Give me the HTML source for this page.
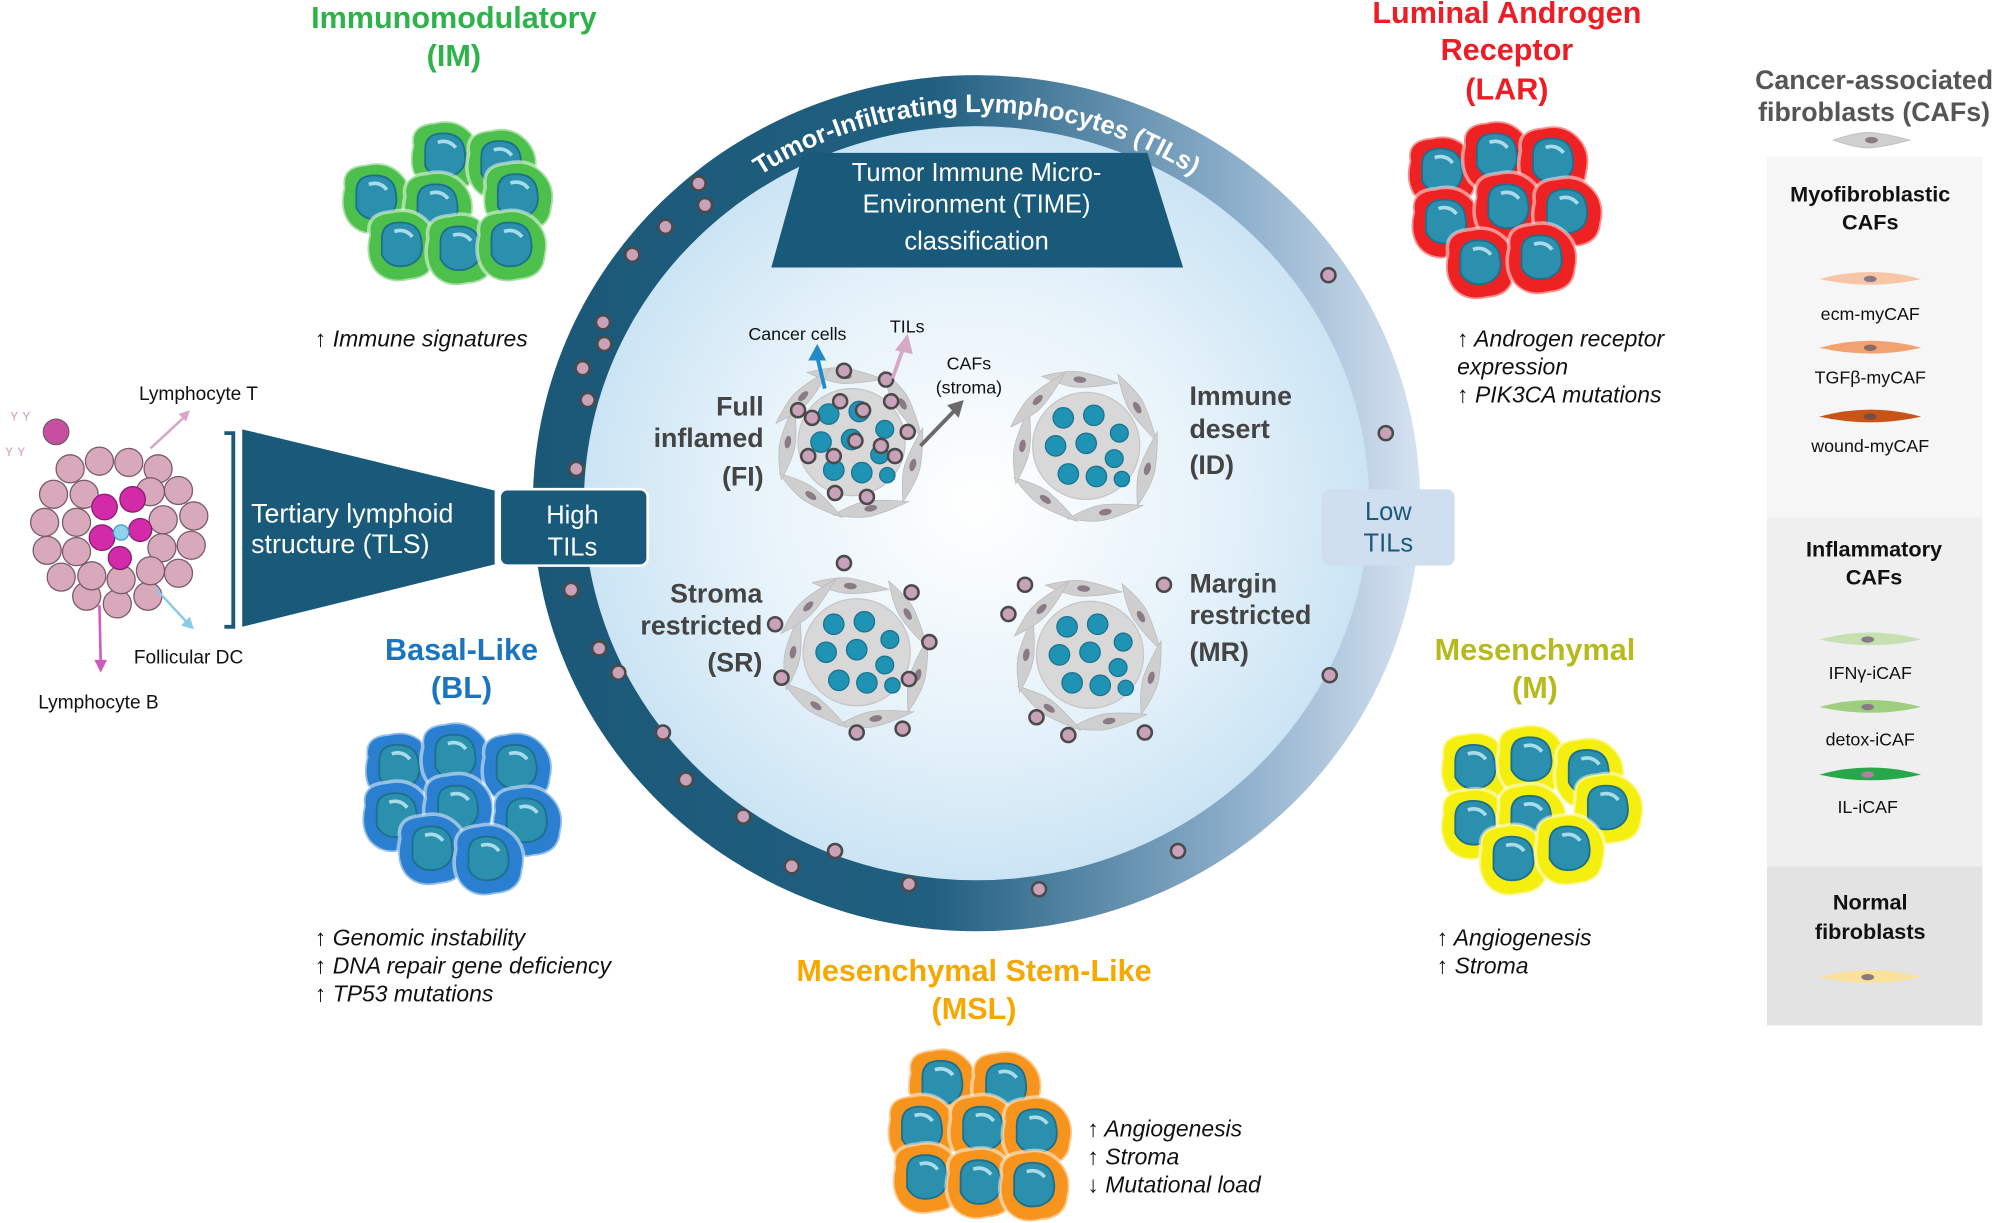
<!DOCTYPE html>
<html><head><meta charset="utf-8"><style>
html,body{margin:0;padding:0;background:#fff}
svg{display:block}
text{font-family:"Liberation Sans",Arial,sans-serif}
.b{font-weight:bold}
.it{font-style:italic;font-size:18px;fill:#111}
.sm{font-size:15px;fill:#111}
.dk{font-size:21px;font-weight:bold;fill:#444}
</style></head><body>
<svg width="1999" height="1223" viewBox="0 0 1568 960" preserveAspectRatio="none" xmlns="http://www.w3.org/2000/svg">
<defs>
<linearGradient id="ring" x1="0" x2="1" y1="0" y2="0">
<stop offset="0" stop-color="#1b5878"/><stop offset="0.45" stop-color="#215f80"/><stop offset="0.8" stop-color="#8fb0cc"/><stop offset="1" stop-color="#d6e2f1"/></linearGradient>
<radialGradient id="inner" cx="0.5" cy="0.5" r="0.5"><stop offset="0" stop-color="#ffffff"/><stop offset="0.6" stop-color="#e6f2fa"/><stop offset="1" stop-color="#cbe4f4"/></radialGradient>
<symbol id="tc" viewBox="-22 -22 44 44" overflow="visible">
<path d="M-18,-6 Q-20,-18 -6,-19 Q6,-22 14,-14 Q22,-6 19,6 Q18,18 4,19 Q-8,22 -15,14 Q-21,6 -18,-6Z" stroke="#fff" stroke-opacity="0.5" stroke-width="2"/>
<path d="M-11,-4 Q-11,-13 -1,-13 Q10,-13 11,-3 Q13,8 3,11 Q-7,13 -11,5Z" fill="#2b8fae" stroke="#1d6f8c" stroke-width="1"/>
<path d="M-4,-8 Q2,-10 6,-5" stroke="#a9dcea" stroke-width="2" fill="none"/>
</symbol>
<symbol id="sp" viewBox="-30 -6 60 12" overflow="visible">
<path d="M-30,0 Q-10,-7 0,-6 Q12,-5 30,0 Q12,5 0,6 Q-10,7 -30,0Z" fill="#cfcfcf" stroke="#bbb" stroke-width="0.6"/>
<ellipse cx="0" cy="0" rx="5" ry="2.5" fill="#8a7a84"/>
</symbol>
<symbol id="tis" viewBox="-60 -60 120 120" overflow="visible">
<g>
<use href="#sp" x="-30" y="-6" width="60" height="12" transform="translate(-5,-52) rotate(5)"/>
<use href="#sp" x="-30" y="-6" width="60" height="12" transform="translate(40,-30) rotate(60)"/>
<use href="#sp" x="-30" y="-6" width="60" height="12" transform="translate(48,18) rotate(-75)"/>
<use href="#sp" x="-30" y="-6" width="60" height="12" transform="translate(15,52) rotate(-10)"/>
<use href="#sp" x="-30" y="-6" width="60" height="12" transform="translate(-32,42) rotate(35)"/>
<use href="#sp" x="-30" y="-6" width="60" height="12" transform="translate(-50,0) rotate(-80)"/>
<use href="#sp" x="-30" y="-6" width="60" height="12" transform="translate(-38,-36) rotate(-45)"/>
</g>
<circle r="42" fill="#d8d8d8" stroke="#c6c6c6"/>
<g fill="#1f93b3" stroke="#1a7290">
<circle cx="-18" cy="-22" r="8"/><circle cx="6" cy="-24" r="8"/><circle cx="26" cy="-10" r="7"/>
<circle cx="-24" cy="0" r="8"/><circle cx="0" cy="-2" r="8"/><circle cx="22" cy="10" r="7"/>
<circle cx="-14" cy="22" r="8"/><circle cx="8" cy="24" r="8"/><circle cx="28" cy="26" r="6"/>
</g>
</symbol>
<symbol id="pd" viewBox="-7 -7 14 14" overflow="visible"><circle r="5.5" fill="#c9a2ba" stroke="#4a4a4a" stroke-width="2"/></symbol>
<path id="arc" d="M560,165 A310 305 0 0 1 972,165"/>
</defs>

<!-- ring -->
<ellipse cx="766" cy="395" rx="348" ry="336" fill="url(#ring)"/>
<ellipse cx="766" cy="395" rx="308" ry="296" fill="url(#inner)"/>
<text font-size="20" class="b" fill="#fff"><textPath href="#arc" startOffset="50%" text-anchor="middle">Tumor-Infiltrating Lymphocytes (TILs)</textPath></text>

<!-- ring dots -->
<g>
<use href="#pd" x="541" y="137" width="14" height="14"/><use href="#pd" x="546" y="154" width="14" height="14"/>
<use href="#pd" x="515" y="171" width="14" height="14"/><use href="#pd" x="489" y="193" width="14" height="14"/>
<use href="#pd" x="466" y="246" width="14" height="14"/><use href="#pd" x="467" y="263" width="14" height="14"/>
<use href="#pd" x="450" y="282" width="14" height="14"/><use href="#pd" x="454" y="307" width="14" height="14"/>
<use href="#pd" x="445" y="361" width="14" height="14"/><use href="#pd" x="441" y="456" width="14" height="14"/>
<use href="#pd" x="463" y="502" width="14" height="14"/><use href="#pd" x="478" y="521" width="14" height="14"/>
<use href="#pd" x="513" y="568" width="14" height="14"/><use href="#pd" x="531" y="605" width="14" height="14"/>
<use href="#pd" x="576" y="634" width="14" height="14"/><use href="#pd" x="614" y="673" width="14" height="14"/>
<use href="#pd" x="648" y="661" width="14" height="14"/><use href="#pd" x="706" y="687" width="14" height="14"/>
<use href="#pd" x="808" y="691" width="14" height="14"/><use href="#pd" x="917" y="661" width="14" height="14"/>
<use href="#pd" x="1036" y="523" width="14" height="14"/><use href="#pd" x="1080" y="333" width="14" height="14"/>
<use href="#pd" x="1035" y="209" width="14" height="14"/>
</g>

<!-- TIME trapezoid -->
<polygon points="630,120 900,120 928,210 605,210" fill="#19597a"/>
<text x="766" y="142" font-size="20" fill="#fff" text-anchor="middle">Tumor Immune Micro-</text>
<text x="766" y="167" font-size="20" fill="#fff" text-anchor="middle">Environment (TIME)</text>
<text x="766" y="196" font-size="20" fill="#fff" text-anchor="middle">classification</text>

<!-- High/Low TILs -->
<rect x="392" y="384" width="116" height="60" rx="6" fill="#19597a" stroke="#fff" stroke-width="2"/>
<text x="449" y="411" font-size="20" fill="#fff" text-anchor="middle">High</text>
<text x="449" y="436" font-size="20" fill="#fff" text-anchor="middle">TILs</text>
<rect x="1037" y="384" width="104" height="60" rx="6" fill="#cfdff0"/>
<text x="1089" y="408" font-size="20" fill="#1d5a7a" text-anchor="middle">Low</text>
<text x="1089" y="433" font-size="20" fill="#1d5a7a" text-anchor="middle">TILs</text>

<!-- quadrants -->
<use href="#tis" x="608" y="287" width="120" height="120"/>
<use href="#tis" x="792" y="290" width="120" height="120"/>
<use href="#tis" x="612" y="452" width="120" height="120"/>
<use href="#tis" x="795" y="454" width="120" height="120"/>
<g>
<use href="#pd" x="619" y="315" width="14" height="14"/><use href="#pd" x="630" y="321" width="14" height="14"/>
<use href="#pd" x="655" y="284" width="14" height="14"/><use href="#pd" x="688" y="291" width="14" height="14"/>
<use href="#pd" x="652" y="308" width="14" height="14"/><use href="#pd" x="670" y="315" width="14" height="14"/>
<use href="#pd" x="692" y="308" width="14" height="14"/><use href="#pd" x="705" y="332" width="14" height="14"/>
<use href="#pd" x="664" y="339" width="14" height="14"/><use href="#pd" x="684" y="343" width="14" height="14"/>
<use href="#pd" x="627" y="351" width="14" height="14"/><use href="#pd" x="647" y="351" width="14" height="14"/>
<use href="#pd" x="695" y="351" width="14" height="14"/><use href="#pd" x="648" y="380" width="14" height="14"/>
<use href="#pd" x="673" y="383" width="14" height="14"/>
<use href="#pd" x="655" y="435" width="14" height="14"/><use href="#pd" x="708" y="458" width="14" height="14"/>
<use href="#pd" x="601" y="483" width="14" height="14"/><use href="#pd" x="722" y="497" width="14" height="14"/>
<use href="#pd" x="606" y="525" width="14" height="14"/><use href="#pd" x="706" y="526" width="14" height="14"/>
<use href="#pd" x="665" y="568" width="14" height="14"/><use href="#pd" x="701" y="565" width="14" height="14"/>
<use href="#pd" x="797" y="452" width="14" height="14"/><use href="#pd" x="906" y="452" width="14" height="14"/>
<use href="#pd" x="784" y="475" width="14" height="14"/><use href="#pd" x="806" y="556" width="14" height="14"/>
<use href="#pd" x="831" y="570" width="14" height="14"/><use href="#pd" x="891" y="568" width="14" height="14"/>
</g>
<line x1="647" y1="305" x2="641" y2="280" stroke="#1e8cc8" stroke-width="3"/><polygon points="634,283 641,270 648,283" fill="#1e8cc8"/>
<line x1="700" y1="297" x2="709" y2="272" stroke="#d6a8c6" stroke-width="3"/><polygon points="702,275 712,262 716,278" fill="#d6a8c6"/>
<line x1="722" y1="350" x2="748" y2="323" stroke="#6a6a6a" stroke-width="3"/><polygon points="743,318 756,314 752,328" fill="#6a6a6a"/>
<text x="587" y="267" font-size="14" fill="#111">Cancer cells</text>
<text x="698" y="261" font-size="14" fill="#111">TILs</text>
<text x="760" y="290" font-size="14" fill="#111" text-anchor="middle">CAFs</text>
<text x="760" y="309" font-size="14" fill="#111" text-anchor="middle">(stroma)</text>
<text class="dk" x="599" y="326" text-anchor="end">Full</text>
<text class="dk" x="599" y="351" text-anchor="end">inflamed</text>
<text class="dk" x="599" y="381" text-anchor="end">(FI)</text>
<text class="dk" x="933" y="318">Immune</text>
<text class="dk" x="933" y="344">desert</text>
<text class="dk" x="933" y="372">(ID)</text>
<text class="dk" x="598" y="473" text-anchor="end">Stroma</text>
<text class="dk" x="598" y="498" text-anchor="end">restricted</text>
<text class="dk" x="598" y="527" text-anchor="end">(SR)</text>
<text class="dk" x="933" y="465">Margin</text>
<text class="dk" x="933" y="490">restricted</text>
<text class="dk" x="933" y="519">(MR)</text>

<!-- TLS -->
<polygon points="190,337 388,385 388,443 190,492" fill="#19597a"/>
<path d="M176,340 H183 V492 H176" fill="none" stroke="#19597a" stroke-width="3"/>
<text x="197" y="410" font-size="21" fill="#fff">Tertiary lymphoid</text>
<text x="197" y="434" font-size="21" fill="#fff">structure (TLS)</text>
<g stroke="#7a5a68" stroke-width="1" fill="#d7a9bb">
<circle cx="55" cy="368" r="11"/><circle cx="78" cy="362" r="11"/><circle cx="101" cy="363" r="11"/><circle cx="124" cy="368" r="11"/>
<circle cx="42" cy="388" r="11"/><circle cx="140" cy="385" r="11"/><circle cx="35" cy="410" r="11"/><circle cx="152" cy="405" r="11"/>
<circle cx="37" cy="432" r="11"/><circle cx="150" cy="428" r="11"/><circle cx="48" cy="453" r="11"/><circle cx="140" cy="450" r="11"/>
<circle cx="68" cy="468" r="11"/><circle cx="92" cy="474" r="11"/><circle cx="116" cy="468" r="11"/>
<circle cx="60" cy="410" r="11"/><circle cx="60" cy="433" r="11"/><circle cx="128" cy="408" r="11"/><circle cx="127" cy="430" r="11"/>
<circle cx="72" cy="452" r="11"/><circle cx="95" cy="455" r="11"/><circle cx="118" cy="448" r="11"/><circle cx="66" cy="388" r="11"/><circle cx="118" cy="386" r="11"/>
<circle cx="44" cy="339" r="10" fill="#c84ea2"/>
</g>
<g fill="#d22aa8" stroke="#8a1a70"><circle cx="82" cy="398" r="10"/><circle cx="104" cy="392" r="10"/><circle cx="80" cy="422" r="10"/><circle cx="110" cy="416" r="9"/><circle cx="94" cy="438" r="9"/></g>
<circle cx="95" cy="418" r="6" fill="#8ed2ec" stroke="#3aa0c8"/>
<line x1="118" y1="352" x2="145" y2="327" stroke="#d6a8c6" stroke-width="2"/><polygon points="140,325 149,322 146,331" fill="#d6a8c6"/>
<line x1="122" y1="462" x2="148" y2="490" stroke="#8ecbe6" stroke-width="2"/><polygon points="142,491 152,494 149,484" fill="#8ecbe6"/>
<line x1="78" y1="475" x2="79" y2="520" stroke="#d05ac0" stroke-width="2"/><polygon points="74,518 79,528 84,518" fill="#d05ac0"/>
<text x="8" y="330" font-size="12" fill="#d6a8c6">ʏ ʏ</text><text x="4" y="358" font-size="12" fill="#d6a8c6">ʏ ʏ</text>
<text class="sm" x="109" y="314">Lymphocyte T</text>
<text class="sm" x="105" y="521">Follicular DC</text>
<text class="sm" x="30" y="556">Lymphocyte B</text>

<!-- subtypes titles -->
<text x="356" y="22" font-size="24" class="b" fill="#2db34a" text-anchor="middle">Immunomodulatory</text>
<text x="356" y="52" font-size="24" class="b" fill="#2db34a" text-anchor="middle">(IM)</text>
<text x="1182" y="18" font-size="24" class="b" fill="#ee1c24" text-anchor="middle">Luminal Androgen</text>
<text x="1182" y="47" font-size="24" class="b" fill="#ee1c24" text-anchor="middle">Receptor</text>
<text x="1182" y="78" font-size="24" class="b" fill="#ee1c24" text-anchor="middle">(LAR)</text>
<text x="362" y="518" font-size="24" class="b" fill="#1a75c0" text-anchor="middle">Basal-Like</text>
<text x="362" y="548" font-size="24" class="b" fill="#1a75c0" text-anchor="middle">(BL)</text>
<text x="1204" y="518" font-size="24" class="b" fill="#b6ba1c" text-anchor="middle">Mesenchymal</text>
<text x="1204" y="548" font-size="24" class="b" fill="#b6ba1c" text-anchor="middle">(M)</text>
<text x="764" y="770" font-size="24" class="b" fill="#f7a800" text-anchor="middle">Mesenchymal Stem-Like</text>
<text x="764" y="800" font-size="24" class="b" fill="#f7a800" text-anchor="middle">(MSL)</text>

<text class="it" x="247" y="272">↑ Immune signatures</text>
<text class="it" x="1143" y="272">↑ Androgen receptor</text>
<text class="it" x="1143" y="294">expression</text>
<text class="it" x="1143" y="316">↑ PIK3CA mutations</text>
<text class="it" x="247" y="742">↑ Genomic instability</text>
<text class="it" x="247" y="764">↑ DNA repair gene deficiency</text>
<text class="it" x="247" y="786">↑ TP53 mutations</text>
<text class="it" x="1127" y="742">↑ Angiogenesis</text>
<text class="it" x="1127" y="764">↑ Stroma</text>
<text class="it" x="853" y="892">↑ Angiogenesis</text>
<text class="it" x="853" y="914">↑ Stroma</text>
<text class="it" x="853" y="936">↓ Mutational load</text>

<!-- clusters -->
<g fill="#4cc04a">
<use href="#tc" x="318" y="92" width="62" height="62"/><use href="#tc" x="362" y="98" width="62" height="62"/>
<use href="#tc" x="264" y="125" width="62" height="62"/><use href="#tc" x="312" y="132" width="62" height="62"/>
<use href="#tc" x="375" y="124" width="62" height="62"/><use href="#tc" x="284" y="162" width="62" height="62"/>
<use href="#tc" x="330" y="165" width="62" height="62"/><use href="#tc" x="370" y="162" width="62" height="62"/>
</g>
<g fill="#ee2222">
<use href="#tc" x="1100" y="104" width="62" height="62"/><use href="#tc" x="1143" y="92" width="62" height="62"/>
<use href="#tc" x="1187" y="96" width="62" height="62"/><use href="#tc" x="1103" y="144" width="62" height="62"/>
<use href="#tc" x="1152" y="132" width="62" height="62"/><use href="#tc" x="1198" y="136" width="62" height="62"/>
<use href="#tc" x="1130" y="176" width="62" height="62"/><use href="#tc" x="1178" y="172" width="62" height="62"/>
</g>
<g fill="#2a7fd0">
<use href="#tc" x="282" y="572" width="62" height="62"/><use href="#tc" x="326" y="564" width="62" height="62"/>
<use href="#tc" x="374" y="572" width="62" height="62"/><use href="#tc" x="280" y="610" width="62" height="62"/>
<use href="#tc" x="328" y="604" width="62" height="62"/><use href="#tc" x="382" y="614" width="62" height="62"/>
<use href="#tc" x="308" y="636" width="62" height="62"/><use href="#tc" x="352" y="644" width="62" height="62"/>
</g>
<g fill="#f5ef10">
<use href="#tc" x="1126" y="572" width="62" height="62"/><use href="#tc" x="1170" y="566" width="62" height="62"/>
<use href="#tc" x="1215" y="576" width="62" height="62"/><use href="#tc" x="1126" y="616" width="62" height="62"/>
<use href="#tc" x="1170" y="612" width="62" height="62"/><use href="#tc" x="1230" y="604" width="62" height="62"/>
<use href="#tc" x="1156" y="644" width="62" height="62"/><use href="#tc" x="1200" y="636" width="62" height="62"/>
</g>
<g fill="#f7941d">
<use href="#tc" x="708" y="820" width="62" height="62"/><use href="#tc" x="758" y="822" width="62" height="62"/>
<use href="#tc" x="692" y="856" width="62" height="62"/><use href="#tc" x="740" y="856" width="62" height="62"/>
<use href="#tc" x="782" y="858" width="62" height="62"/><use href="#tc" x="696" y="894" width="62" height="62"/>
<use href="#tc" x="738" y="898" width="62" height="62"/><use href="#tc" x="780" y="900" width="62" height="62"/>
</g>

<!-- right panel -->
<rect x="1386" y="123" width="169" height="283" fill="#f6f6f6"/>
<rect x="1386" y="406" width="169" height="274" fill="#efefef"/>
<rect x="1386" y="680" width="169" height="125" fill="#e3e3e3"/>
<text x="1470" y="70" font-size="21" class="b" fill="#555" text-anchor="middle">Cancer-associated</text>
<text x="1470" y="95" font-size="21" class="b" fill="#555" text-anchor="middle">fibroblasts (CAFs)</text>
<use href="#sp" x="1428" y="104" width="80" height="12" fill="#ddd"/>
<text x="1467" y="158" font-size="17" class="b" fill="#111" text-anchor="middle">Myofibroblastic</text>
<text x="1467" y="180" font-size="17" class="b" fill="#111" text-anchor="middle">CAFs</text>
<g>
<path d="M1427,219 Q1467,208 1507,219 Q1467,228 1427,219Z" fill="#f6c6a6"/><ellipse cx="1467" cy="219" rx="5" ry="2.5" fill="#8a7a84"/>
<path d="M1427,273 Q1467,262 1507,273 Q1467,282 1427,273Z" fill="#f2a171"/><ellipse cx="1467" cy="273" rx="5" ry="2.5" fill="#8a6a64"/>
<path d="M1427,327 Q1467,316 1507,327 Q1467,336 1427,327Z" fill="#c85418"/><ellipse cx="1467" cy="327" rx="5" ry="2.5" fill="#7a4a44"/>
<path d="M1427,502 Q1467,491 1507,502 Q1467,511 1427,502Z" fill="#c6e0b2"/><ellipse cx="1465" cy="502" rx="5" ry="2.5" fill="#8a7a84"/>
<path d="M1427,555 Q1467,544 1507,555 Q1467,564 1427,555Z" fill="#9dcf7f"/><ellipse cx="1465" cy="555" rx="5" ry="2.5" fill="#8a7a84"/>
<path d="M1427,608 Q1467,597 1507,608 Q1467,617 1427,608Z" fill="#27a84a"/><ellipse cx="1465" cy="608" rx="5" ry="2.5" fill="#b080a0"/>
<path d="M1427,767 Q1467,756 1507,767 Q1467,776 1427,767Z" fill="#fbe29c"/><ellipse cx="1465" cy="767" rx="5" ry="2.5" fill="#8a7a84"/>
</g>
<text x="1467" y="251" font-size="14" fill="#111" text-anchor="middle">ecm-myCAF</text>
<text x="1467" y="301" font-size="14" fill="#111" text-anchor="middle">TGFβ-myCAF</text>
<text x="1467" y="355" font-size="14" fill="#111" text-anchor="middle">wound-myCAF</text>
<text x="1470" y="437" font-size="17" class="b" fill="#111" text-anchor="middle">Inflammatory</text>
<text x="1470" y="459" font-size="17" class="b" fill="#111" text-anchor="middle">CAFs</text>
<text x="1467" y="533" font-size="14" fill="#111" text-anchor="middle">IFNγ-iCAF</text>
<text x="1467" y="585" font-size="14" fill="#111" text-anchor="middle">detox-iCAF</text>
<text x="1465" y="638" font-size="14" fill="#111" text-anchor="middle">IL-iCAF</text>
<text x="1467" y="714" font-size="17" class="b" fill="#111" text-anchor="middle">Normal</text>
<text x="1467" y="737" font-size="17" class="b" fill="#111" text-anchor="middle">fibroblasts</text>
</svg>
</body></html>
